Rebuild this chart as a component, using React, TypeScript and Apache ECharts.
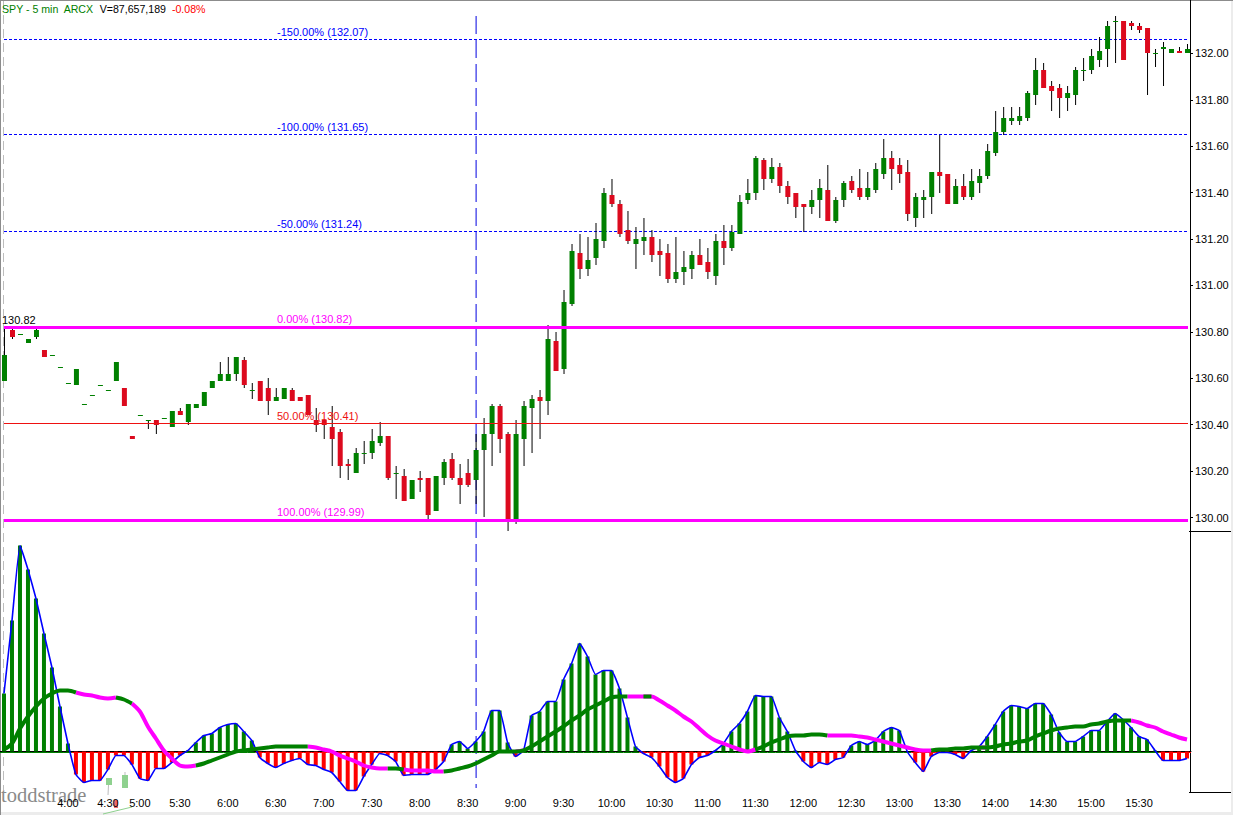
import { useEffect, useRef } from "react";
import * as echarts from "echarts";

// bar times, the premarket session has gaps
const premarketTimes = [
  "3:05","3:10","3:15","3:20","3:25","3:35","3:40","3:45","4:00","4:05","4:10","4:15","4:25","4:30",
  "4:35","4:40","4:55","5:00","5:05","5:10","5:15","5:25","5:30","5:35","5:40","5:45","5:50","5:55",
];
const sessionTimes: string[] = [];
for (let m = 360; m <= 960; m += 5) {
  sessionTimes.push(Math.floor(m / 60) + ":" + String(m % 60).padStart(2, "0"));
}
const categories = [...premarketTimes, ...sessionTimes];
const timeTicks = [
  "4:00","4:30","5:00","5:30","6:00","6:30","7:00","7:30","8:00","8:30","9:00","9:30","10:00","10:30",
  "11:00","11:30","12:00","12:30","13:00","13:30","14:00","14:30","15:00","15:30",
];
const priceTicks = [130, 130.2, 130.4, 130.6, 130.8, 131, 131.2, 131.4, 131.6, 131.8, 132];
const markerBar = 59; // the 8:35 bar

const opens = [
  130.59,130.81,130.79,130.75,130.78,130.72,130.70,130.65,130.58,130.57,
  130.49,130.53,130.57,130.55,130.59,130.56,130.35,130.44,130.42,130.42,
  130.43,130.39,130.46,130.41,130.47,130.48,130.56,130.59,130.59,130.62,
  130.68,130.55,130.59,130.56,130.50,130.51,130.55,130.52,130.53,130.42,
  130.42,130.39,130.37,130.23,130.19,130.28,130.28,130.32,130.35,130.19,
  130.18,130.08,130.17,130.17,130.03,130.17,130.25,130.17,130.19,130.16,
  130.29,130.36,130.48,130.36,129.99,130.34,130.47,130.52,130.50,130.76,
  130.64,130.92,131.14,131.07,131.12,131.19,131.39,131.35,131.24,131.18,
  131.19,131.21,131.15,131.14,131.03,131.06,131.07,131.13,131.10,131.04,
  131.19,131.16,131.22,131.37,131.40,131.54,131.46,131.51,131.43,131.40,
  131.35,131.34,131.37,131.41,131.28,131.37,131.45,131.42,131.38,131.41,
  131.48,131.55,131.52,131.49,131.29,131.37,131.38,131.49,131.48,131.35,
  131.43,131.38,131.44,131.47,131.57,131.66,131.71,131.71,131.72,131.82,
  131.93,131.86,131.85,131.81,131.82,131.93,131.93,131.97,132.02,132.14,
  132.14,132.13,132.12,132.11,132.00,132.02,132.00,132.01,132.00,
];
const closes = [
  130.70,130.78,130.79,130.77,130.81,130.69,130.70,130.65,130.58,130.64,
  130.49,130.53,130.57,130.55,130.67,130.48,130.34,130.44,130.42,130.40,
  130.43,130.46,130.44,130.49,130.49,130.54,130.59,130.62,130.62,130.69,
  130.57,130.55,130.50,130.50,130.52,130.56,130.50,130.50,130.44,130.40,
  130.40,130.34,130.22,130.22,130.28,130.28,130.33,130.35,130.17,130.19,
  130.07,130.16,130.16,130.01,130.18,130.24,130.17,130.14,130.14,130.29,
  130.36,130.48,130.34,129.99,130.36,130.48,130.51,130.50,130.77,130.63,
  130.93,131.15,131.07,131.11,131.20,131.40,131.35,131.22,131.19,131.20,
  131.21,131.13,131.13,131.03,131.06,131.08,131.13,131.09,131.06,131.19,
  131.16,131.23,131.36,131.40,131.55,131.46,131.51,131.43,131.38,131.34,
  131.34,131.37,131.42,131.28,131.37,131.44,131.41,131.38,131.42,131.50,
  131.55,131.50,131.48,131.31,131.38,131.38,131.49,131.47,131.35,131.43,
  131.38,131.45,131.47,131.58,131.66,131.72,131.72,131.73,131.83,131.93,
  131.85,131.84,131.81,131.83,131.93,131.93,131.99,132.01,132.12,132.14,
  131.97,132.12,132.10,132.00,132.00,132.03,132.02,132.00,132.02,
];
const lows = [
  130.59,130.77,130.79,130.75,130.77,130.69,130.70,130.65,130.58,130.57,
  130.49,130.53,130.57,130.55,130.59,130.48,130.34,130.44,130.38,130.36,
  130.43,130.39,130.44,130.40,130.47,130.48,130.56,130.59,130.59,130.59,
  130.56,130.51,130.50,130.44,130.50,130.51,130.50,130.50,130.44,130.37,
  130.34,130.22,130.17,130.16,130.19,130.23,130.25,130.31,130.16,130.08,
  130.07,130.08,130.11,129.99,130.03,130.14,130.16,130.06,130.13,130.06,
  130.00,130.22,130.28,129.94,129.97,130.22,130.28,130.34,130.44,130.63,
  130.62,130.91,131.03,131.04,131.09,131.16,131.34,131.21,131.18,131.07,
  131.13,131.10,131.04,131.01,131.01,131.00,131.03,131.09,131.03,131.00,
  131.09,131.15,131.22,131.35,131.37,131.41,131.44,131.40,131.35,131.29,
  131.23,131.31,131.29,131.28,131.27,131.34,131.40,131.37,131.37,131.40,
  131.46,131.41,131.44,131.28,131.25,131.29,131.31,131.40,131.35,131.35,
  131.37,131.37,131.40,131.46,131.56,131.65,131.69,131.69,131.71,131.78,
  131.85,131.75,131.72,131.75,131.78,131.88,131.91,131.94,131.94,131.96,
  131.97,132.10,132.09,131.82,131.94,131.86,132.00,132.00,132.00,
];
const highs = [
  130.82,130.82,130.79,130.77,130.82,130.72,130.70,130.65,130.58,130.64,
  130.49,130.53,130.57,130.55,130.67,130.56,130.35,130.44,130.42,130.42,
  130.43,130.46,130.47,130.49,130.49,130.54,130.59,130.67,130.69,130.69,
  130.69,130.58,130.59,130.60,130.56,130.56,130.56,130.52,130.53,130.47,
  130.42,130.48,130.38,130.25,130.30,130.33,130.38,130.41,130.35,130.22,
  130.21,130.16,130.20,130.17,130.18,130.25,130.28,130.23,130.25,130.36,
  130.43,130.49,130.49,130.37,130.42,130.50,130.53,130.55,130.83,130.80,
  130.98,131.18,131.22,131.21,131.27,131.42,131.46,131.37,131.32,131.25,
  131.29,131.24,131.20,131.18,131.21,131.15,131.15,131.20,131.16,131.22,
  131.26,131.26,131.39,131.46,131.56,131.55,131.55,131.53,131.45,131.40,
  131.35,131.41,131.46,131.52,131.38,131.45,131.47,131.50,131.49,131.53,
  131.63,131.58,131.55,131.54,131.40,131.41,131.49,131.65,131.48,131.46,
  131.48,131.50,131.50,131.61,131.75,131.77,131.77,131.77,131.84,131.98,
  131.96,131.88,131.87,131.86,131.94,131.98,132.02,132.07,132.14,132.16,
  132.14,132.14,132.13,132.11,132.02,132.05,132.02,132.03,132.04,
];

// oscillator pane, arbitrary units
const histogram = [
  58,131,206,182,153,118,84,45,8,-23,
  -31,-29,-29,-18,-4,-4,-13,-27,-29,-17,
  -17,-11,-4,1,9,16,18,24,27,28,
  20,11,-6,-12,-16,-12,-9,-7,-13,-14,
  -18,-21,-30,-39,-39,-25,-13,-2,-4,-10,
  -24,-23,-23,-23,-18,-10,7,10,3,10,
  20,41,41,9,-5,1,36,40,50,50,
  72,88,108,95,77,81,81,63,34,5,
  -2,-6,-15,-26,-31,-27,-13,-6,-4,1,
  8,20,28,40,56,55,55,34,20,1,
  -10,-16,-11,-13,-8,-6,6,10,7,11,
  20,24,21,0,-11,-20,-5,-1,-1,-3,
  -7,1,5,15,27,40,46,45,43,48,
  48,37,19,10,10,15,21,21,30,38,
  32,24,15,12,1,-9,-9,-9,-7,
];
const signal = [
  2,8,23,35,45,53,58,61,61,59,
  57,56,54,53,54,52,48,40,25,13,
  1,-7,-14,-15,-14,-12,-9,-6,-3,0,
  1,2,3,4,5,5,5,5,5,4,
  2,0,-4,-7,-10,-14,-16,-17,-17,-17,
  -18,-19,-19,-19,-20,-20,-19,-17,-15,-12,
  -8,-4,0,0,0,1,5,10,15,20,
  25,31,36,42,46,50,54,55,55,55,
  55,55,51,46,41,35,30,23,16,11,
  8,5,2,0,2,5,9,12,15,16,
  16,17,17,16,16,16,16,15,14,12,
  10,8,6,4,2,1,1,2,2,3,
  3,4,4,4,5,7,8,10,11,15,
  18,21,23,24,25,25,27,28,30,31,
  31,31,29,26,24,20,17,14,12,
];
// stretches of the signal line drawn in magenta
const signalFalling = [[9,14],[16,24],[38,48],[50,55],[64,65],[78,80],[81,94],[103,116],[122,123],[141,148]];

// retracement levels are unrounded, the labels show them to the cent
const fibPrices = [132.063, 131.655, 131.235, 130.82, 130.407, 129.99];
const fibLabels = ["-150.00% (132.07)", "-100.00% (131.65)", "-50.00% (131.24)", "0.00% (130.82)", "50.00% (130.41)", "100.00% (129.99)"];
const fibStyles = [
  { color: "#0000ff", width: 1, dash: [3, 2] },
  { color: "#0000ff", width: 1, dash: [3, 2] },
  { color: "#0000ff", width: 1, dash: [3, 2] },
  { color: "#ff00ff", width: 3, dash: null },
  { color: "#ee1111", width: 1, dash: null },
  { color: "#ff00ff", width: 3, dash: null },
];

const GREEN = "#008000";
const CANDLE_RED = "#dc0a1e";
const FONT = '"Liberation Sans", Arial, sans-serif';
const TITLE_SIZE = 10.6;

function renderCandle(_params: any, api: any) {
  const i = api.value(0);
  const o = api.value(1);
  const c = api.value(2);
  const x = api.coord([i, o])[0];
  const yO = Math.round(api.coord([i, o])[1]);
  const yC = Math.round(api.coord([i, c])[1]);
  const yL = Math.round(api.coord([i, api.value(3)])[1]);
  const yH = Math.round(api.coord([i, api.value(4)])[1]);
  const top = Math.min(yO, yC);
  const h = Math.max(Math.abs(yO - yC), 1);
  return {
    type: "group",
    children: [
      {
        type: "line",
        shape: { x1: x + 0.5, y1: yH, x2: x + 0.5, y2: yL },
        style: { stroke: "#000", lineWidth: 1 },
      },
      {
        type: "rect",
        shape: { x: x - 2, y: top, width: 5, height: h },
        style: { fill: c >= o ? GREEN : CANDLE_RED },
      },
    ],
  };
}

function renderFib(params: any, api: any) {
  const price = api.value(1);
  const idx = api.value(2);
  const s = fibStyles[idx];
  const sys = params.coordSys;
  const y = Math.round(api.coord([0, price])[1]) + 0.5;
  return {
    type: "group",
    children: [
      {
        type: "line",
        shape: { x1: sys.x + 4, y1: y, x2: sys.x + sys.width - 3, y2: y },
        style: { stroke: s.color, lineWidth: s.width, lineDash: s.dash },
      },
      {
        type: "text",
        x: sys.x + 277,
        y: y - (s.width > 1 ? 3 : 2),
        style: { text: fibLabels[idx], fill: s.color, font: "11px " + FONT, align: "left", verticalAlign: "bottom" },
      },
    ],
  };
}

function renderBaseline(_params: any, api: any) {
  const i = api.value(0);
  const p = api.coord([i, 0]);
  const y = Math.round(p[1]) + 0.5;
  return {
    type: "line",
    shape: { x1: p[0] - 4, y1: y, x2: p[0] + 4, y2: y },
    style: { stroke: api.value(1) >= 0 ? GREEN : "#ff0000", lineWidth: 1 },
  };
}

// dashed marker that spans both panes
function renderMarker(_params: any, api: any) {
  const x = api.coord([api.value(0), 130])[0] + 0.5;
  return {
    type: "line",
    shape: { x1: x, y1: 16, x2: x, y2: 788 },
    style: { stroke: "#0000e0", lineWidth: 1, lineDash: [18, 6] },
  };
}

const inFalling = (i: number) => signalFalling.some(([a, b]) => i >= a && i <= b);
const strictlyFalling = (i: number) => signalFalling.some(([a, b]) => i > a && i < b);

export default function App() {
  const chartRef = useRef<HTMLDivElement>(null);

  useEffect(() => {
    if (!chartRef.current) return;
    const chart = echarts.init(chartRef.current, null, { renderer: "svg" });
    const isTick = (_i: number, value: string) => timeTicks.includes(value);
    const candleData = opens.map((o, i) => [i, o, closes[i], lows[i], highs[i]]);
    const fibData = fibPrices.map((p, i) => [0, p, i]);
    const titleText = { fontSize: TITLE_SIZE, fontWeight: "normal", fontFamily: FONT };

    const option: any = {
      animation: false,
      backgroundColor: "#fff",
      title: {
        left: 2,
        top: 3,
        padding: 0,
        text: "{a|SPY - 5 min  ARCX}  {b|V=87,657,189}  {c|-0.08%}",
        textStyle: {
          ...titleText,
          rich: {
            a: { color: GREEN, ...titleText },
            b: { color: "#000", ...titleText },
            c: { color: "#ff0000", ...titleText },
          },
        },
      },
      grid: [
        { left: -1, top: 0, width: 1192, height: 532 },
        { left: -1, top: 532, width: 1192, height: 260 },
      ],
      xAxis: [
        { type: "category", gridIndex: 0, data: categories, show: false },
        {
          type: "category",
          gridIndex: 1,
          data: categories,
          axisLine: { lineStyle: { color: "#000", width: 1 } },
          axisTick: { alignWithLabel: true, interval: isTick, length: 2, lineStyle: { color: "#000" } },
          axisLabel: { interval: isTick, color: "#000", fontSize: 11, fontFamily: FONT, margin: 5 },
          splitLine: { show: false },
        },
      ],
      yAxis: [
        {
          type: "value",
          gridIndex: 0,
          position: "right",
          min: 129.9375,
          max: 132.2306,
          offset: -1,
          splitLine: { show: false },
          axisLine: { show: true, lineStyle: { color: "#000", width: 1 } },
          axisTick: { show: true, length: 3, customValues: priceTicks, lineStyle: { color: "#000" } },
          axisLabel: {
            customValues: priceTicks,
            formatter: (v: number) => v.toFixed(2),
            color: "#000",
            fontSize: 11,
            fontFamily: FONT,
            margin: 5,
          },
        },
        {
          type: "value",
          gridIndex: 1,
          position: "right",
          min: -40.5,
          max: 219.5,
          offset: -1,
          splitLine: { show: false },
          axisLine: { show: true, lineStyle: { color: "#000", width: 1 } },
          axisTick: { show: false },
          axisLabel: { show: false },
        },
      ],
      series: [
        {
          name: "marker",
          type: "custom",
          xAxisIndex: 0,
          yAxisIndex: 0,
          clip: false,
          renderItem: renderMarker,
          encode: { x: 0, y: 1 },
          data: [[markerBar, 130]],
        },
        {
          name: "fib behind",
          type: "custom",
          xAxisIndex: 0,
          yAxisIndex: 0,
          clip: false,
          renderItem: renderFib,
          encode: { x: 0, y: 1 },
          data: fibData.slice(0, 3),
        },
        {
          name: "SPY",
          type: "custom",
          xAxisIndex: 0,
          yAxisIndex: 0,
          clip: false,
          renderItem: renderCandle,
          encode: { x: 0, y: [1, 2, 3, 4] },
          data: candleData,
        },
        {
          name: "fib front",
          type: "custom",
          xAxisIndex: 0,
          yAxisIndex: 0,
          clip: false,
          renderItem: renderFib,
          encode: { x: 0, y: 1 },
          data: fibData.slice(3),
        },
        {
          name: "histogram",
          type: "bar",
          xAxisIndex: 1,
          yAxisIndex: 1,
          barWidth: 4,
          itemStyle: { color: (p: any) => (histogram[p.dataIndex] >= 0 ? GREEN : "#ff0000") },
          data: histogram,
        },
        {
          name: "zero",
          type: "custom",
          xAxisIndex: 1,
          yAxisIndex: 1,
          clip: false,
          renderItem: renderBaseline,
          encode: { x: 0, y: 1 },
          data: histogram.map((v, i) => [i, v]),
        },
        {
          name: "macd",
          type: "line",
          xAxisIndex: 1,
          yAxisIndex: 1,
          smooth: 0.12,
          showSymbol: false,
          lineStyle: { color: "#0000ff", width: 1.6 },
          data: histogram,
        },
        {
          name: "signal falling",
          type: "line",
          xAxisIndex: 1,
          yAxisIndex: 1,
          smooth: 0.3,
          showSymbol: false,
          lineStyle: { color: "#ff00ff", width: 4, cap: "butt" },
          data: signal.map((v, i) => (inFalling(i) ? v : null)),
        },
        {
          name: "signal rising",
          type: "line",
          xAxisIndex: 1,
          yAxisIndex: 1,
          smooth: 0.3,
          showSymbol: false,
          lineStyle: { color: GREEN, width: 4, cap: "butt" },
          data: signal.map((v, i) => (strictlyFalling(i) ? null : v)),
        },
      ],
      graphic: [
        { type: "rect", shape: { x: 0, y: 812, width: 1233, height: 3 }, style: { fill: "#ececec" } },
        { type: "rect", shape: { x: 1231, y: 0, width: 2, height: 815 }, style: { fill: "#ececec" } },
        { type: "rect", shape: { x: 0, y: 0, width: 1233, height: 1 }, style: { fill: "#8c8c8c" } },
        { type: "rect", shape: { x: 0, y: 0, width: 1, height: 815 }, style: { fill: "#8c8c8c" } },
        {
          type: "line",
          shape: { x1: 3.5, y1: 1, x2: 3.5, y2: 790 },
          style: { stroke: "#bdbdbd", lineWidth: 1, lineDash: [9, 5] },
        },
        // pane divider and baseline running past the price axis
        { type: "line", shape: { x1: 1189, y1: 531.5, x2: 1231, y2: 531.5 }, style: { stroke: "#000", lineWidth: 1 } },
        { type: "line", shape: { x1: 1189, y1: 792.5, x2: 1231, y2: 792.5 }, style: { stroke: "#000", lineWidth: 1 } },
        {
          type: "text",
          x: 2,
          y: 320,
          style: { text: "130.82", fill: "#000", font: "11px " + FONT, verticalAlign: "middle" },
        },
        // toddstrade watermark
        {
          type: "text",
          x: 1,
          y: 805,
          style: { text: "toddstrade", fill: "#8a8a8a", font: '20.5px "Liberation Serif", serif', verticalAlign: "bottom" },
        },
        { type: "line", shape: { x1: 108.5, y1: 785, x2: 108, y2: 795 }, style: { stroke: "#bdbdbd", lineWidth: 1 } },
        { type: "rect", shape: { x: 106, y: 778, width: 6, height: 7 }, style: { fill: "#8fd18f" } },
        { type: "line", shape: { x1: 125, y1: 772, x2: 125, y2: 775 }, style: { stroke: "#bdbdbd", lineWidth: 1 } },
        { type: "rect", shape: { x: 122, y: 775, width: 6, height: 13 }, style: { fill: "#8fd18f" } },
        { type: "rect", shape: { x: 114, y: 800, width: 4, height: 8 }, style: { fill: "#ee6a6a" } },
        { type: "line", shape: { x1: 103, y1: 814, x2: 132, y2: 807 }, style: { stroke: "#8fd18f", lineWidth: 1 } },
      ],
    };
    chart.setOption(option);

    return () => {
      chart.dispose();
    };
  }, []);

  return <div ref={chartRef} style={{ position: "fixed", left: 0, top: 0, width: 1233, height: 815 }}></div>;
}
